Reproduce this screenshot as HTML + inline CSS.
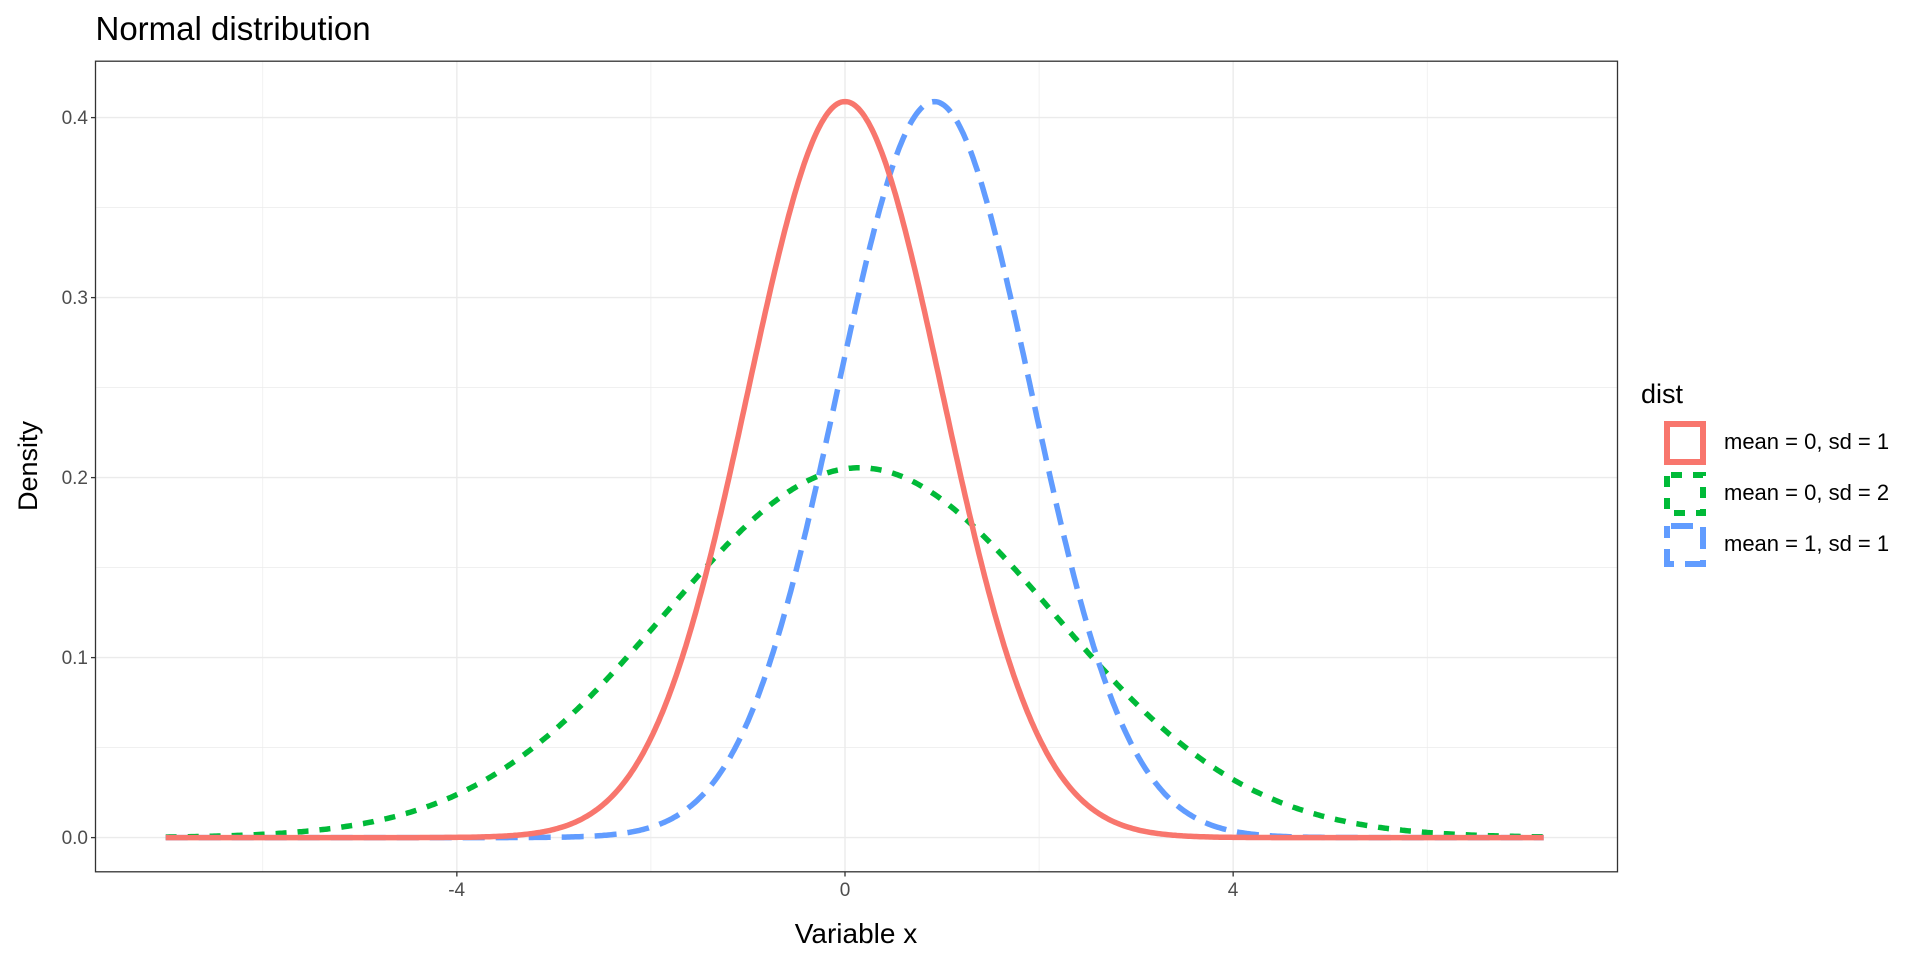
<!DOCTYPE html>
<html><head><meta charset="utf-8"><style>
html,body{margin:0;padding:0;background:#fff}
svg{display:block;font-family:"Liberation Sans",Arial,sans-serif}
</style></head><body>
<svg id="s" width="1920" height="960" xmlns="http://www.w3.org/2000/svg">
<rect width="1920" height="960" fill="#fff"/>
<g id="grid"></g>
<g id="curves"></g>
<rect x="95.5" y="61.2" width="1522" height="810.6" fill="none" stroke="#333" stroke-width="1.3"/>
<g id="ticks" stroke="#333" stroke-width="1.3"></g>
<g fill="#4d4d4d" font-size="19">
<text x="88" y="124" text-anchor="end">0.4</text>
<text x="88" y="304" text-anchor="end">0.3</text>
<text x="88" y="484" text-anchor="end">0.2</text>
<text x="88" y="664" text-anchor="end">0.1</text>
<text x="88" y="844" text-anchor="end">0.0</text>
<text x="456.7" y="896" text-anchor="middle">-4</text>
<text x="845" y="896" text-anchor="middle">0</text>
<text x="1233" y="896" text-anchor="middle">4</text>
</g>
<text x="95.5" y="40" font-size="33" fill="#000">Normal distribution</text>
<text x="856" y="943" font-size="28" text-anchor="middle" fill="#000">Variable x</text>
<text transform="translate(37,466) rotate(-90)" font-size="27" text-anchor="middle" fill="#000">Density</text>
<text x="1641" y="403" font-size="27" fill="#000">dist</text>
<rect x="1667" y="424" width="36" height="38" fill="none" stroke="#F8766D" stroke-width="6"/>
<rect x="1667" y="475" width="36" height="38" fill="none" stroke="#00BA38" stroke-width="6" stroke-dasharray="11 11" stroke-dashoffset="-4"/>
<rect x="1667" y="526" width="36" height="38" fill="none" stroke="#619CFF" stroke-width="6" stroke-dasharray="22 11" stroke-dashoffset="-4"/>
<g font-size="22" fill="#000">
<text x="1724" y="449">mean = 0, sd = 1</text>
<text x="1724" y="500">mean = 0, sd = 2</text>
<text x="1724" y="551">mean = 1, sd = 1</text>
</g>
</svg>
<script>
var NS="http://www.w3.org/2000/svg";
function X(v){return 845+v*97.04;}
function Y(v){return 837.6-v*1800;}
function el(p,t,a){var e=document.createElementNS(NS,t);for(var k in a)e.setAttribute(k,a[k]);p.appendChild(e);return e;}
var g=document.getElementById('grid');
[-6,-2,2,6].forEach(function(v){el(g,'line',{x1:X(v),x2:X(v),y1:61.2,y2:871.8,stroke:'#EBEBEB','stroke-width':0.7});});
[0.05,0.15,0.25,0.35].forEach(function(v){el(g,'line',{x1:95.5,x2:1617.5,y1:Y(v),y2:Y(v),stroke:'#EBEBEB','stroke-width':0.7});});
[-4,0,4].forEach(function(v){el(g,'line',{x1:X(v),x2:X(v),y1:61.2,y2:871.8,stroke:'#EBEBEB','stroke-width':1.4});});
[0,0.1,0.2,0.3,0.4].forEach(function(v){el(g,'line',{x1:95.5,x2:1617.5,y1:Y(v),y2:Y(v),stroke:'#EBEBEB','stroke-width':1.4});});
var t=document.getElementById('ticks');
[-4,0,4].forEach(function(v){el(t,'line',{x1:X(v),x2:X(v),y1:871.8,y2:876.5});});
[0,0.1,0.2,0.3,0.4].forEach(function(v){el(t,'line',{x1:91,x2:95.5,y1:Y(v),y2:Y(v)});});
function pdf(x,m,s){return Math.exp(-0.5*Math.pow((x-m)/s,2))/(s*Math.sqrt(2*Math.PI));}
function path(m,s,sc,shift){var d='';for(var x=-7.0;x<=7.2;x+=0.02){d+=(d?'L':'M')+X(x).toFixed(1)+','+Y(pdf(x-shift,m,s)*sc).toFixed(1);}return d;}
var c=document.getElementById('curves');
el(c,'path',{d:path(0,2,1.03,0.15),fill:'none',stroke:'#00BA38','stroke-width':5.5,'stroke-dasharray':'11 11'});
el(c,'path',{d:path(1,1,1.025,-0.08),fill:'none',stroke:'#619CFF','stroke-width':5.5,'stroke-dasharray':'22 11'});
el(c,'path',{d:path(0,1,1.025,0),fill:'none',stroke:'#F8766D','stroke-width':5.5});
</script>
</body></html>
